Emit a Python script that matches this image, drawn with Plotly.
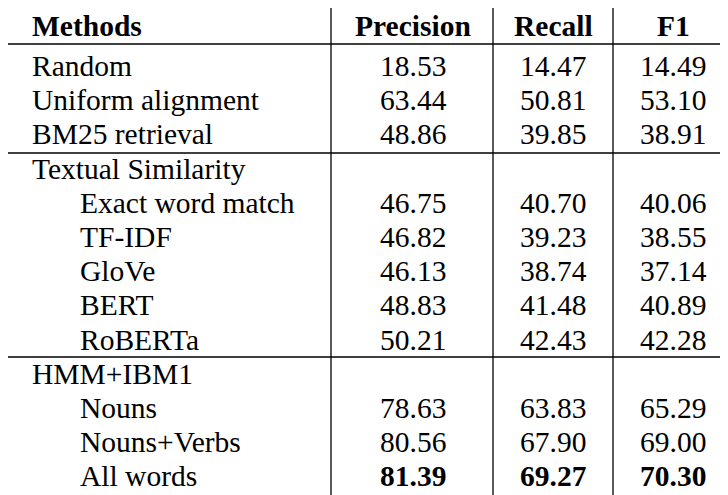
import plotly.graph_objects as go

headers = ["Methods", "Precision", "Recall", "F1"]
methods = ["Random", "Uniform alignment", "BM25 retrieval", "Textual Similarity",
           "Exact word match", "TF-IDF", "GloVe", "BERT", "RoBERTa",
           "HMM+IBM1", "Nouns", "Nouns+Verbs", "All words"]
indent = [0, 0, 0, 0, 1, 1, 1, 1, 1, 0, 1, 1, 1]
precision = ["18.53", "63.44", "48.86", "", "46.75", "46.82", "46.13", "48.83", "50.21", "", "78.63", "80.56", "81.39"]
recall = ["14.47", "50.81", "39.85", "", "40.70", "39.23", "38.74", "41.48", "42.43", "", "63.83", "67.90", "69.27"]
f1 = ["14.49", "53.10", "38.91", "", "40.06", "38.55", "37.14", "40.89", "42.28", "", "65.29", "69.00", "70.30"]
bold_row = 12

W, H = 728, 495
fig = go.Figure()
font = dict(family="Liberation Serif, Times New Roman, serif", size=29.5, color="black")
ann = []
col_x = [None, 405, 545, 665]
ann.append(dict(x=22, y=18, text="<b>Methods</b>", xanchor="left", showarrow=False, font=font))
for i in range(1, 4):
    ann.append(dict(x=col_x[i], y=18, text="<b>%s</b>" % headers[i], xanchor="center", showarrow=False, font=font))
for r, m in enumerate(methods):
    y = 58 + r * 34.2
    ann.append(dict(x=22 + 48 * indent[r], y=y, text=m, xanchor="left", showarrow=False, font=font))
    for ci, col in enumerate([precision, recall, f1], start=1):
        if col[r]:
            t = "<b>%s</b>" % col[r] if r == bold_row else col[r]
            ann.append(dict(x=col_x[ci], y=y, text=t, xanchor="center", showarrow=False, font=font))
shapes = []
for y in [36, 145, 349]:
    shapes.append(dict(type="line", x0=0, x1=W, y0=y, y1=y, line=dict(color="black", width=1.3)))
for x in [323, 485, 605]:
    shapes.append(dict(type="line", x0=x, x1=x, y0=0, y1=H, line=dict(color="black", width=1.3)))
fig.update_layout(width=W, height=H, margin=dict(l=0, r=0, t=0, b=0),
                  plot_bgcolor="white", paper_bgcolor="white",
                  xaxis=dict(range=[0, W], visible=False), yaxis=dict(range=[H, 0], visible=False),
                  annotations=ann, shapes=shapes, showlegend=False)
fig.write_html("out.html")
